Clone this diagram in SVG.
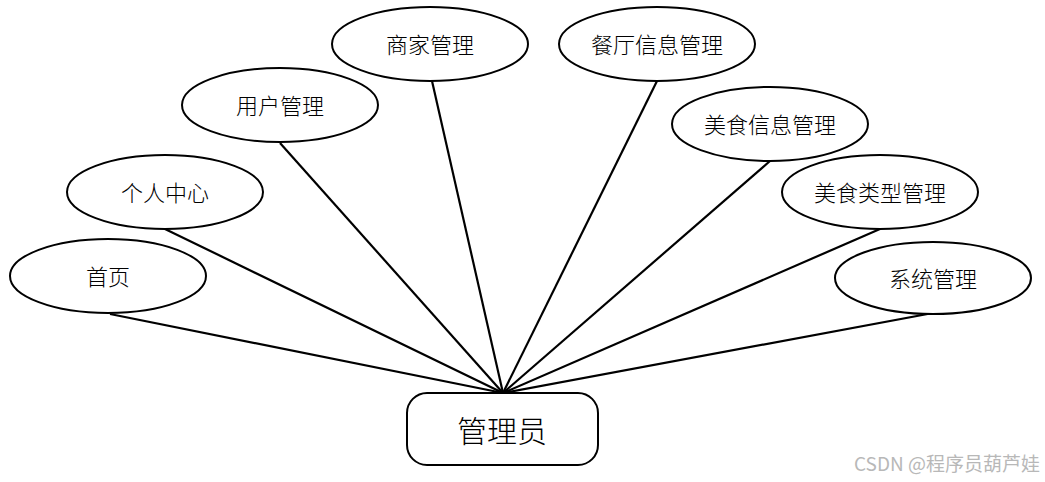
<svg xmlns="http://www.w3.org/2000/svg" width="1045" height="482" viewBox="0 0 1045 482">
<style>
.n{fill:#fff;stroke:#000;stroke-width:2}
.t{font-family:"Noto Sans CJK SC","Liberation Sans",sans-serif;font-size:22px;font-weight:300;text-anchor:middle;dominant-baseline:central;fill:#000}
.c line{stroke:#000;stroke-width:2.2}
</style>
<rect width="1045" height="482" fill="#fff"/>
<g class="c">
<line x1="503" y1="393" x2="110" y2="314"/>
<line x1="503" y1="393" x2="165" y2="229"/>
<line x1="503" y1="393" x2="280" y2="143"/>
<line x1="503" y1="393" x2="432" y2="81"/>
<line x1="503" y1="393" x2="657" y2="81"/>
<line x1="503" y1="393" x2="770" y2="161"/>
<line x1="503" y1="393" x2="880" y2="229"/>
<line x1="503" y1="393" x2="933" y2="313"/>
</g>
<g id="n1"><ellipse class="n" cx="108" cy="276" rx="98" ry="37"/><text class="t" x="108" y="275">首页</text></g>
<g id="n2"><ellipse class="n" cx="165" cy="192" rx="98" ry="37"/><text class="t" x="165" y="191">个人中心</text></g>
<g id="n3"><ellipse class="n" cx="280" cy="105" rx="98" ry="37"/><text class="t" x="280" y="104">用户管理</text></g>
<g id="n4"><ellipse class="n" cx="430" cy="44" rx="98" ry="37"/><text class="t" x="430" y="43">商家管理</text></g>
<g id="n5"><ellipse class="n" cx="657" cy="44" rx="98" ry="37"/><text class="t" x="657" y="43">餐厅信息管理</text></g>
<g id="n6"><ellipse class="n" cx="770" cy="124" rx="98" ry="37"/><text class="t" x="770" y="123">美食信息管理</text></g>
<g id="n7"><ellipse class="n" cx="880" cy="192" rx="98" ry="37"/><text class="t" x="880" y="191">美食类型管理</text></g>
<g id="n8"><ellipse class="n" cx="933" cy="278" rx="98" ry="36"/><text class="t" x="933" y="277">系统管理</text></g>
<g id="admin"><rect class="n" x="407" y="393" width="191" height="72" rx="20"/><text class="t" x="502" y="429" style="font-size:30px">管理员</text></g>
<text x="1040" y="471" style="font-family:'Noto Sans CJK SC','Liberation Sans',sans-serif;font-size:19px;fill:#b8b8b8;text-anchor:end">CSDN @程序员葫芦娃</text>
</svg>
